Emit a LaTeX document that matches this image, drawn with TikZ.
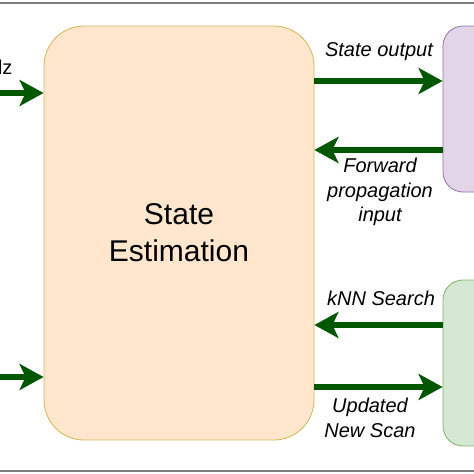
\documentclass[tikz,border=0pt]{standalone}
\usepackage{fontspec}
\setmainfont{Liberation Sans}
\usetikzlibrary{arrows.meta}
\definecolor{estfill}{HTML}{FFE6CC}
\definecolor{estline}{HTML}{D6B656}
\definecolor{posefill}{HTML}{E1D5E7}
\definecolor{poseline}{HTML}{9673A6}
\definecolor{mapfill}{HTML}{D5E8D4}
\definecolor{mapline}{HTML}{82B366}
\definecolor{flowgreen}{HTML}{005700}
\begin{document}
	\begin{tikzpicture}[
			x=1pt, y=-1pt,
			block/.style={draw, rounded corners=40pt, line width=0.8pt, inner sep=0pt},
			flow/.style={draw=flowgreen, line width=6pt, -{Stealth[length=24pt, width=26pt, inset=6pt]}},
			lab/.style={font=\fontsize{20}{24.5}\selectfont\itshape, align=center}
		]
		\useasboundingbox (0,0) rectangle (474,474);
		\draw[gray, line width=1.5pt] (0,3) -- (474,3);
		\draw[gray, line width=1.5pt] (0,471) -- (474,471);
		\node[block, fill=estfill, draw=estline, minimum width=270pt, minimum height=414pt,
			font=\fontsize{30}{37}\selectfont, align=center] (est) at (179,233) {State\\Estimation};
		\node[block, fill=posefill, draw=poseline, rounded corners=20pt, minimum width=90pt, minimum height=166pt] (pose) at (488,109) {};
		\node[block, fill=mapfill, draw=mapline, rounded corners=20pt, minimum width=90pt, minimum height=166pt] (map) at (488,363) {};
		\coordinate (in1) at (-5,93);
		\coordinate (in2) at (-5,377);
		\draw[flow] (in1) -- (in1 -| est.west);
		\draw[flow] (in2) -- (in2 -| est.west);
		\draw[flow] (est.east |- 0,81) -- (pose.west |- 0,81);
		\draw[flow] (pose.west |- 0,150) -- (est.east |- 0,150);
		\draw[flow] (map.west |- 0,325) -- (est.east |- 0,325);
		\draw[flow] (est.east |- 0,387) -- (map.west |- 0,387);
		% labels
		\node[font=\fontsize{20}{24.5}\selectfont, anchor=east] (dz) at (16,67) {dz};
		\node[lab] (so) at (379,52) {State output};
		\node[lab] (fp) at (380,192) {Forward\\propagation\\input};
		\node[lab] (knn) at (381,298) {kNN Search};
		\node[lab] (ns) at (370,418) {Updated\\New Scan};
	\end{tikzpicture}
\end{document}
